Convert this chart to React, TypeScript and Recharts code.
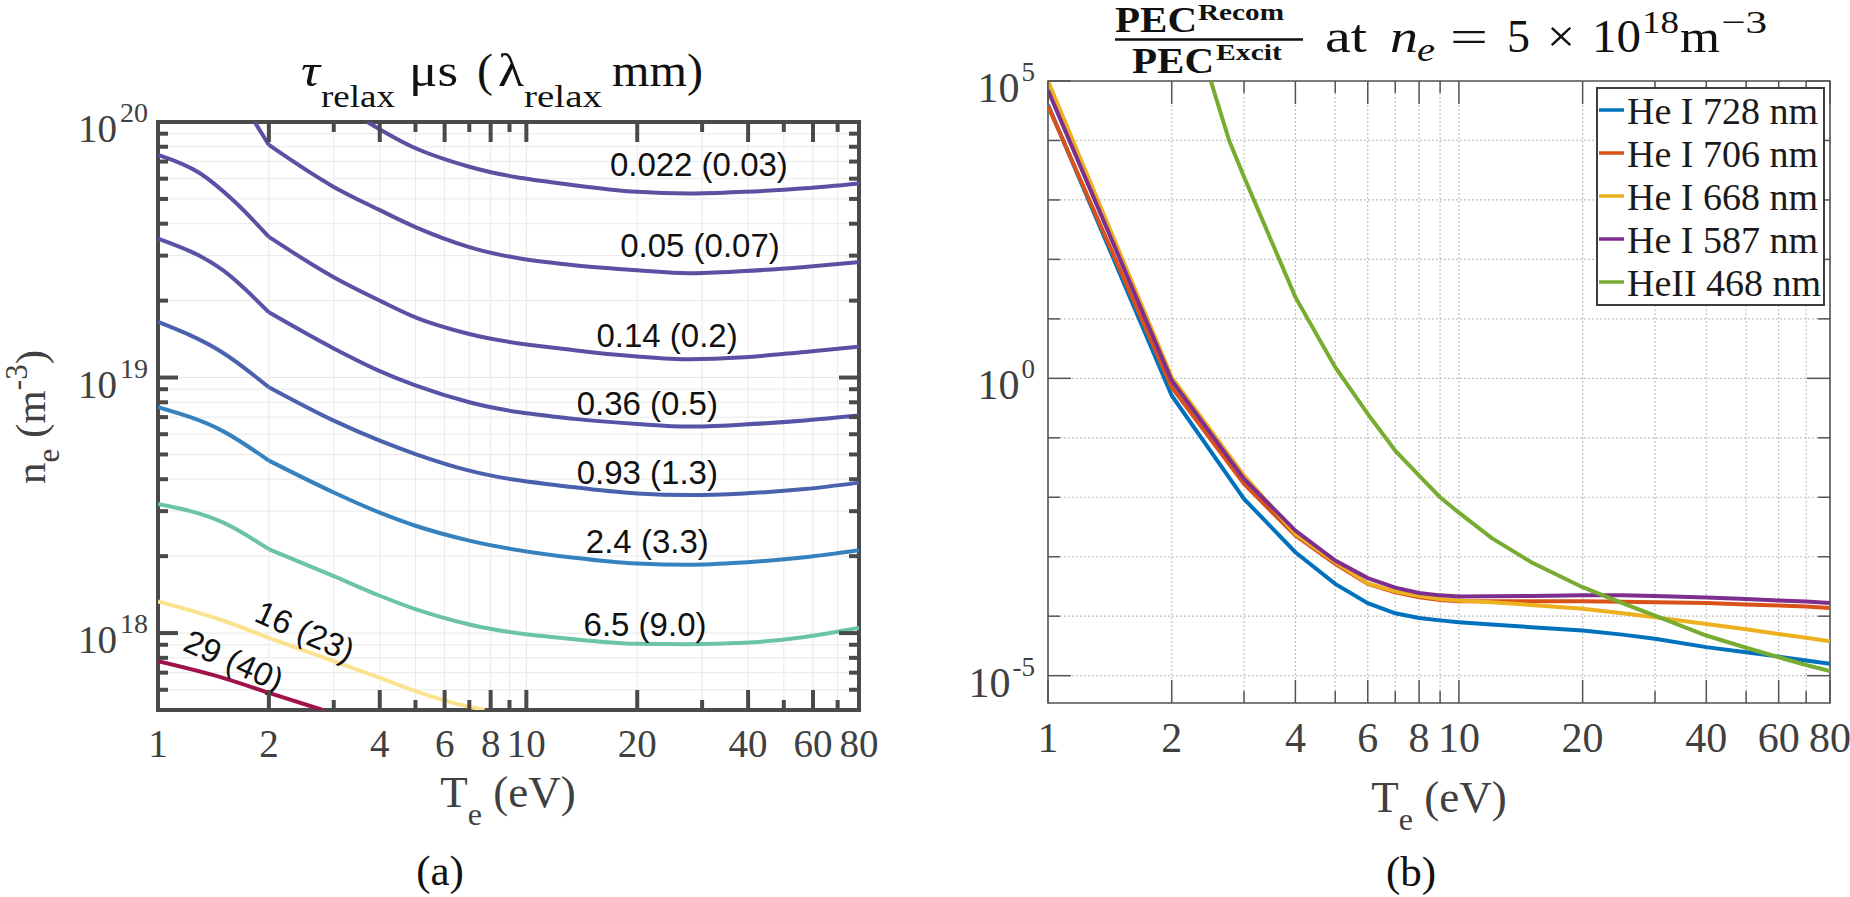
import React from 'react';
import { LineChart, Line, XAxis, YAxis, CartesianGrid, ReferenceDot, ReferenceArea, Legend } from 'recharts';

const SERIF = '"Liberation Serif", "Times New Roman", serif';
const SANS = '"Liberation Sans", Arial, sans-serif';
const TICK_TEXT = '#404040';

// ---------- panel (a): relaxation-time contours ----------
const teTicks = [1, 2, 3, 4, 5, 6, 7, 8, 9, 10, 20, 30, 40, 50, 60, 70, 80];
const teLabels = [1, 2, 4, 6, 8, 10, 20, 40, 60, 80];
const neTicks = [
  6e17, 7e17, 8e17, 9e17,
  1e18, 2e18, 3e18, 4e18, 5e18, 6e18, 7e18, 8e18, 9e18,
  1e19, 2e19, 3e19, 4e19, 5e19, 6e19, 7e19, 8e19, 9e19,
  1e20,
];
const neLabels = [1e18, 1e19, 1e20];

const c0022Te = [3.7, 4.9, 7, 13.5, 20, 27.6, 39, 57, 80];
const c0022Ne = [1.0e20, 8.0e19, 6.68e19, 5.66e19, 5.33e19, 5.25e19, 5.33e19, 5.5e19, 5.75e19];
const c005Te = [1.83, 2, 3, 4, 5, 7, 13.5, 20, 27.6, 39, 57, 80];
const c005Ne = [1.0e20, 8.13e19, 5.57e19, 4.52e19, 3.88e19, 3.24e19, 2.75e19, 2.63e19, 2.56e19, 2.61e19, 2.71e19, 2.83e19];
const c014Te = [1, 1.3, 1.6, 2, 3, 4, 5, 7, 13.5, 20, 27.6, 39, 57, 80];
const c014Ne = [7.43e19, 6.3e19, 4.94e19, 3.55e19, 2.47e19, 2.0e19, 1.72e19, 1.48e19, 1.28e19, 1.21e19, 1.18e19, 1.2e19, 1.26e19, 1.32e19];
const c036Te = [1, 1.5, 2, 3, 4, 5, 7, 13.5, 20, 27.6, 39, 57, 80];
const c036Ne = [3.5e19, 2.63e19, 1.8e19, 1.3e19, 1.06e19, 9.31e18, 8.0e18, 6.89e18, 6.58e18, 6.43e18, 6.55e18, 6.79e18, 7.1e18];
const c093Te = [1, 1.5, 2, 3, 4, 5, 7, 13.5, 20, 27.6, 39, 57, 80];
const c093Ne = [1.65e19, 1.25e19, 9.16e18, 6.78e18, 5.66e18, 5.02e18, 4.32e18, 3.72e18, 3.52e18, 3.47e18, 3.52e18, 3.66e18, 3.88e18];
const c24Te = [1, 1.5, 2, 3, 4, 5, 7, 13.5, 20, 27.6, 39, 57, 80];
const c24Ne = [7.66e18, 6.17e18, 4.73e18, 3.55e18, 2.96e18, 2.63e18, 2.3e18, 1.97e18, 1.87e18, 1.85e18, 1.89e18, 1.98e18, 2.11e18];
const c65Te = [1, 1.5, 2, 3, 4, 5, 7, 13.5, 20, 27.6, 39, 57, 80];
const c65Ne = [3.2e18, 2.71e18, 2.13e18, 1.67e18, 1.4e18, 1.24e18, 1.08e18, 9.46e17, 9.08e17, 9.04e17, 9.16e17, 9.66e17, 1.05e18];
const c16Te = [1, 1.5, 2, 3, 4, 5, 6.6, 7.7];
const c16Ne = [1.33e18, 1.12e18, 9.57e17, 7.76e17, 6.68e17, 5.93e17, 5.25e17, 5.0e17];
const c29Te = [1, 1.5, 2, 2.8];
const c29Ne = [7.76e17, 6.68e17, 5.83e17, 5.0e17];

const contourText = ['0.022 (0.03)', '0.05 (0.07)', '0.14 (0.2)', '0.36 (0.5)', '0.93 (1.3)', '2.4 (3.3)', '6.5 (9.0)', '16 (23)', '29 (40)'];
const contourColors = ['#5E4FA2', '#5E4FA2', '#5C50A4', '#5753A7', '#4A61AD', '#3682BF', '#6BC4A4', '#FBE28F', '#A0124A'];
const labelTe = [29.4, 29.6, 24.1, 21.3, 21.3, 21.3, 21.0, 2.51, 1.61];
const labelNe = [6.84e19, 3.3e19, 1.46e19, 7.91e18, 4.28e18, 2.28e18, 1.08e18, 1.02e18, 7.83e17];
const labelAngle = [0, 0, 0, 0, 0, 0, 0, 24, 24];

// temperature of the first grid node; the contours have a corner there
const TE_NODE = 2;

const contourTe = [c0022Te, c005Te, c014Te, c036Te, c093Te, c24Te, c65Te, c16Te, c29Te];
const contourNe = [c0022Ne, c005Ne, c014Ne, c036Ne, c093Ne, c24Ne, c65Ne, c16Ne, c29Ne];
const contours = contourTe.map((te, i) => {
  const points = te.map((t, j) => ({ te: t, ne: contourNe[i][j] }));
  return {
    text: contourText[i],
    color: contourColors[i],
    low: points.filter((p) => p.te <= TE_NODE),
    high: points.filter((p) => p.te >= TE_NODE),
  };
});

// ---------- panel (b): PEC ratios ----------
const teGrid = [1, 2, 3, 4, 5, 6, 7, 8, 9, 10, 12, 15, 20, 25, 30, 40, 50, 60, 70, 80];
const he728 = [3.98e4, 0.514, 9.38e-3, 1.19e-3, 3.49e-4, 1.66e-4, 1.12e-4, 9.33e-5, 8.51e-5, 7.94e-5, 7.24e-5, 6.53e-5, 5.75e-5, 4.9e-5, 4.17e-5, 3.02e-5, 2.48e-5, 2.09e-5, 1.8e-5, 1.58e-5];
const he706 = [3.8e4, 0.711, 1.67e-2, 2.27e-3, 7.59e-4, 3.49e-4, 2.51e-4, 2.09e-4, 1.88e-4, 1.78e-4, 1.78e-4, 1.78e-4, 1.78e-4, 1.75e-4, 1.72e-4, 1.66e-4, 1.58e-4, 1.51e-4, 1.45e-4, 1.38e-4];
const he668 = [1.0e5, 1.05, 2.31e-2, 2.42e-3, 8.13e-4, 3.55e-4, 2.61e-4, 2.19e-4, 1.95e-4, 1.83e-4, 1.72e-4, 1.55e-4, 1.33e-4, 1.12e-4, 9.62e-5, 7.41e-5, 6.03e-5, 5.01e-5, 4.33e-5, 3.8e-5];
const he587 = [6.98e4, 0.92, 2.03e-2, 2.75e-3, 8.63e-4, 4.37e-4, 3.02e-4, 2.45e-4, 2.24e-4, 2.14e-4, 2.16e-4, 2.19e-4, 2.24e-4, 2.24e-4, 2.19e-4, 2.06e-4, 1.95e-4, 1.83e-4, 1.76e-4, 1.67e-4];
const heII468Te = [2.49, 2.76, 3, 4, 5, 6, 7, 8, 9, 10, 12, 15, 20, 25, 30, 40, 50, 60, 70, 80];
const heII468 = [1.0e5, 1.0e4, 2.43e3, 23.2, 1.54, 0.253, 6.08e-2, 2.31e-2, 1.0e-2, 5.5e-3, 2.07e-3, 8.09e-4, 3.07e-4, 1.66e-4, 1.02e-4, 4.73e-5, 2.95e-5, 2.04e-5, 1.51e-5, 1.19e-5];

const pecNames = ['He I 728 nm', 'He I 706 nm', 'He I 668 nm', 'He I 587 nm', 'HeII 468 nm'];
const pecColors = ['#0072BD', '#D95319', '#EDB120', '#7E2F8E', '#77AC30'];
const pecTe = [teGrid, teGrid, teGrid, teGrid, heII468Te];
const pecValues = [he728, he706, he668, he587, heII468];
const pecSeries = pecValues.map((vals, i) => ({
  name: pecNames[i],
  color: pecColors[i],
  points: vals.map((v, j) => ({ te: pecTe[i][j], r: v })),
}));

const pecTicks = [1e-5, 1e-4, 1e-3, 1e-2, 1e-1, 1, 10, 100, 1e3, 1e4, 1e5];
const pecLabels = [1e-5, 1, 1e5];

// ---------- geometry ----------
const A_PLOT_W = 701;
const A_PLOT_H = 588;
const B_PLOT_W = 782;
const B_PLOT_H = 622;
const A_AX = '#4a4a4a';
const B_AX = '#555555';

const exp10 = (v: number) => Math.round(Math.log10(v));

// panel (a) ticks: inward marks on both opposite sides
const ATickX = (p: any) => {
  const v = p.payload.value;
  const major = teLabels.includes(v);
  const len = major ? 20 : 10;
  return (
    <g>
      <line x1={p.x} x2={p.x} y1={p.y} y2={p.y - len} stroke={A_AX} strokeWidth={4} />
      <line x1={p.x} x2={p.x} y1={p.y - A_PLOT_H} y2={p.y - A_PLOT_H + len} stroke={A_AX} strokeWidth={4} />
      {major && (
        <text x={p.x} y={p.y + 47} textAnchor="middle" fontFamily={SERIF} fontSize={39} fill={TICK_TEXT}>
          {v}
        </text>
      )}
    </g>
  );
};

const ATickY = (p: any) => {
  const v = p.payload.value;
  const major = neLabels.some((m) => Math.abs(m - v) / m < 1e-6);
  const len = major ? 20 : 10;
  return (
    <g>
      <line x1={p.x} x2={p.x + len} y1={p.y} y2={p.y} stroke={A_AX} strokeWidth={4} />
      <line x1={p.x + A_PLOT_W} x2={p.x + A_PLOT_W - len} y1={p.y} y2={p.y} stroke={A_AX} strokeWidth={4} />
      {major && (
        <text x={p.x - 10} y={p.y + 20} textAnchor="end" fontFamily={SERIF} fontSize={39} fill={TICK_TEXT}>
          10
          <tspan dy={-20} dx={3} fontSize={28}>
            {exp10(v)}
          </tspan>
        </text>
      )}
    </g>
  );
};

// panel (b) ticks
const BTickX = (p: any) => {
  const v = p.payload.value;
  const major = teLabels.includes(v);
  const len = major ? 23 : 12;
  return (
    <g>
      <line x1={p.x} x2={p.x} y1={p.y} y2={p.y - len} stroke={B_AX} strokeWidth={1.5} />
      <line x1={p.x} x2={p.x} y1={p.y - B_PLOT_H} y2={p.y - B_PLOT_H + len} stroke={B_AX} strokeWidth={1.5} />
      {major && (
        <text x={p.x} y={p.y + 49} textAnchor="middle" fontFamily={SERIF} fontSize={42} fill={TICK_TEXT}>
          {v}
        </text>
      )}
    </g>
  );
};

const BTickY = (p: any) => {
  const v = p.payload.value;
  const major = pecLabels.some((m) => Math.abs(m - v) / m < 1e-6);
  const len = major ? 23 : 12;
  const e = exp10(v);
  return (
    <g>
      <line x1={p.x} x2={p.x + len} y1={p.y} y2={p.y} stroke={B_AX} strokeWidth={1.5} />
      <line x1={p.x + B_PLOT_W} x2={p.x + B_PLOT_W - len} y1={p.y} y2={p.y} stroke={B_AX} strokeWidth={1.5} />
      {major && (
        <text x={p.x - 13} y={p.y + 21} textAnchor="end" fontFamily={SERIF} fontSize={42} fill={TICK_TEXT}>
          10
          <tspan dy={-21} dx={2} fontSize={27}>
            {e < 0 ? `-${-e}` : `${e}`}
          </tspan>
        </text>
      )}
    </g>
  );
};

const contourLabel = (text: string, angle: number) => (p: any) => (
  <text
    x={p.cx}
    y={p.cy}
    dy="0.36em"
    textAnchor="middle"
    fontFamily={SANS}
    fontSize={33}
    fill="#111111"
    transform={angle ? `rotate(${angle} ${p.cx} ${p.cy})` : undefined}
  >
    {text}
  </text>
);

const PecLegend = (props: any) => {
  const payload = [...(props.payload || [])].sort(
    (a: any, b: any) => pecNames.indexOf(a.value) - pecNames.indexOf(b.value)
  );
  return (
    <svg width={230} height={220} style={{ display: 'block' }}>
      <rect x={1} y={1} width={227} height={217} fill="#ffffff" stroke="#3d3d3d" strokeWidth={2} />
      {payload.map((entry: any, i: number) => (
        <g key={entry.value}>
          <line x1={3} x2={28} y1={23 + 43 * i} y2={23 + 43 * i} stroke={entry.color} strokeWidth={3.5} />
          <text x={31} y={36.5 + 43 * i} fontFamily={SERIF} fontSize={38} fill="#1a1a1a">
            {entry.value}
          </text>
        </g>
      ))}
    </svg>
  );
};

// a run of title text stretched to a set advance width
const Piece = (p: { x: number; y: number; size: number; w: number; bold?: boolean; italic?: boolean; children: React.ReactNode }) => (
  <text
    x={p.x}
    y={p.y}
    fontFamily={SERIF}
    fontSize={p.size}
    fontWeight={p.bold ? 'bold' : 'normal'}
    fontStyle={p.italic ? 'italic' : 'normal'}
    fill="#111111"
    textLength={p.w}
    lengthAdjust="spacingAndGlyphs"
  >
    {p.children}
  </text>
);

export default function App() {
  return (
    <div style={{ position: 'absolute', left: 0, top: 0, width: 1850, height: 897, background: '#ffffff', overflow: 'hidden' }}>
      {/* panel (a) */}
      <div style={{ position: 'absolute', left: 0, top: 0 }}>
        <LineChart width={900} height={897} margin={{ top: 122, right: 41, bottom: 0, left: 0 }}>
          <CartesianGrid xAxisId="b" yAxisId="l" stroke="#e9e9e9" strokeWidth={1} />
          <XAxis
            xAxisId="b"
            type="number"
            dataKey="te"
            scale="log"
            domain={[1, 80]}
            allowDataOverflow
            ticks={teTicks}
            interval={0}
            tickSize={0}
            tickMargin={0}
            height={187}
            axisLine={false}
            tick={ATickX}
          />
          <YAxis
            yAxisId="l"
            type="number"
            scale="log"
            domain={[5e17, 1e20]}
            allowDataOverflow
            ticks={neTicks}
            interval={0}
            tickSize={0}
            tickMargin={0}
            width={158}
            axisLine={false}
            tick={ATickY}
          />
          {contours.map((c) =>
            [c.low, c.high]
              .filter((seg) => seg.length > 1)
              .map((seg, k) => (
                <Line
                  key={c.text + k}
                  xAxisId="b"
                  yAxisId="l"
                  data={seg}
                  dataKey="ne"
                  type="monotone"
                  stroke={c.color}
                  strokeWidth={4}
                  dot={false}
                  isAnimationActive={false}
                />
              ))
          )}
          {contours.map((c, i) => (
            <ReferenceDot
              key={'lbl' + c.text}
              xAxisId="b"
              yAxisId="l"
              x={labelTe[i]}
              y={labelNe[i]}
              r={0}
              shape={contourLabel(c.text, labelAngle[i])}
            />
          ))}
          <ReferenceArea
            xAxisId="b"
            yAxisId="l"
            x1={1}
            x2={80}
            y1={5e17}
            y2={1e20}
            fill="none"
            fillOpacity={0}
            stroke={A_AX}
            strokeWidth={4}
            ifOverflow="visible"
          />
        </LineChart>
      </div>

      {/* panel (b) */}
      <div style={{ position: 'absolute', left: 930, top: 0 }}>
        <LineChart width={920} height={897} margin={{ top: 81, right: 20, bottom: 0, left: 0 }}>
          <CartesianGrid xAxisId="b" yAxisId="l" stroke="#c2c2c2" strokeWidth={1.2} strokeDasharray="2 2" />
          <XAxis
            xAxisId="b"
            type="number"
            dataKey="te"
            scale="log"
            domain={[1, 80]}
            allowDataOverflow
            ticks={teTicks}
            interval={0}
            tickSize={0}
            tickMargin={0}
            height={194}
            axisLine={false}
            tick={BTickX}
          />
          <YAxis
            yAxisId="l"
            type="number"
            scale="log"
            domain={[3.47e-6, 1e5]}
            allowDataOverflow
            ticks={pecTicks}
            interval={0}
            tickSize={0}
            tickMargin={0}
            width={118}
            axisLine={false}
            tick={BTickY}
          />
          {pecSeries.map((s) => (
            <Line
              key={s.name}
              name={s.name}
              xAxisId="b"
              yAxisId="l"
              data={s.points}
              dataKey="r"
              type="linear"
              stroke={s.color}
              strokeWidth={4}
              dot={false}
              isAnimationActive={false}
            />
          ))}
          <ReferenceArea
            xAxisId="b"
            yAxisId="l"
            x1={1}
            x2={80}
            y1={3.47e-6}
            y2={1e5}
            fill="none"
            fillOpacity={0}
            stroke={B_AX}
            strokeWidth={1.6}
            ifOverflow="visible"
          />
          <Legend
            layout="vertical"
            align="center"
            verticalAlign="middle"
            content={<PecLegend />}
            wrapperStyle={{ position: 'absolute', left: 666, top: 87, width: 230, height: 220 }}
          />
        </LineChart>
      </div>

      {/* titles, axis labels and captions */}
      <svg width={1850} height={897} style={{ position: 'absolute', left: 0, top: 0, pointerEvents: 'none' }}>
        <Piece x={301} y={86} size={46} w={19} italic>τ</Piece>
        <Piece x={321} y={107} size={32} w={74}>relax</Piece>
        <Piece x={409} y={86} size={46} w={49}>μs</Piece>
        <Piece x={477} y={86} size={46} w={16}>(</Piece>
        <Piece x={498} y={86} size={46} w={26}>λ</Piece>
        <Piece x={524} y={107} size={32} w={78}>relax</Piece>
        <Piece x={612} y={86} size={46} w={91}>mm)</Piece>

        <text transform="translate(45 417) rotate(-90)" textAnchor="middle" fontFamily={SERIF} fontSize={43} fill={TICK_TEXT}>
          n<tspan fontSize={31} dy={14}>e</tspan>
          <tspan dy={-14}> (m</tspan>
          <tspan fontSize={31} dy={-18}>-3</tspan>
          <tspan dy={18}>)</tspan>
        </text>

        <text x={508} y={807} textAnchor="middle" fontFamily={SERIF} fontSize={45} fill={TICK_TEXT}>
          T<tspan fontSize={32} dy={18}>e</tspan>
          <tspan dy={-18}> (eV)</tspan>
        </text>
        <text x={1439} y={812} textAnchor="middle" fontFamily={SERIF} fontSize={45} fill={TICK_TEXT}>
          T<tspan fontSize={32} dy={18}>e</tspan>
          <tspan dy={-18}> (eV)</tspan>
        </text>

        <Piece x={1115} y={32} size={35} w={82} bold>PEC</Piece>
        <Piece x={1198} y={20} size={23} w={86} bold>Recom</Piece>
        <line x1={1115} x2={1303} y1={39.5} y2={39.5} stroke="#111111" strokeWidth={2.5} />
        <Piece x={1132} y={73} size={35} w={82} bold>PEC</Piece>
        <Piece x={1216} y={60} size={23} w={66} bold>Excit</Piece>
        <Piece x={1325} y={52} size={47} w={42}>at</Piece>
        <Piece x={1390} y={52} size={47} w={28} italic>n</Piece>
        <Piece x={1417} y={61} size={33} w={18} italic>e</Piece>
        <Piece x={1450} y={52} size={47} w={38}>=</Piece>
        <Piece x={1507} y={52} size={47} w={23}>5</Piece>
        <Piece x={1547} y={52} size={47} w={28}>×</Piece>
        <Piece x={1592} y={52} size={47} w={49}>10</Piece>
        <Piece x={1642} y={33} size={32} w={37}>18</Piece>
        <Piece x={1680} y={52} size={47} w={40}>m</Piece>
        <Piece x={1721} y={33} size={32} w={46}>−3</Piece>

        <text x={440} y={885} textAnchor="middle" fontFamily={SERIF} fontSize={43} fill="#111111">(a)</text>
        <text x={1411} y={886} textAnchor="middle" fontFamily={SERIF} fontSize={43} fill="#111111">(b)</text>
      </svg>
    </div>
  );
}
